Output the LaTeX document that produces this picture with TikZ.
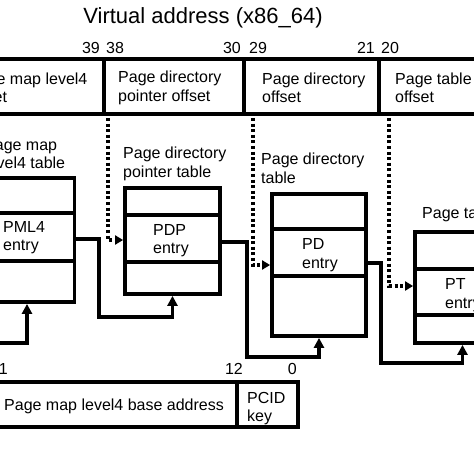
\documentclass[tikz,border=0pt]{standalone}
\usepackage{fontspec}
\setmainfont{Liberation Sans}
\usetikzlibrary{arrows.meta}
\tikzset{
  cell/.style={draw, rectangle, inner sep=0pt, line width=3.8pt},
  txt/.style={inner sep=0pt, align=left, anchor=west, font=\fontsize{16}{18.5}\selectfont},
  num/.style={inner sep=0pt, font=\fontsize{16}{18.5}\selectfont},
  conn/.style={line width=3.8pt, -{Triangle[length=10pt,width=10pt]}},
  dotline/.style={line width=3.4pt, dash pattern=on 3pt off 2.6pt, -{Triangle[length=8pt,width=9pt]}},
}
\begin{document}
\begin{tikzpicture}[x=1pt,y=-1pt]
\useasboundingbox (0,0) rectangle (474,474);
\clip (0,0) rectangle (474,474);

% title
\node[inner sep=0pt, font=\fontsize{22}{26}\selectfont] (title) at (203,17.5) {Virtual address (x86\_64)};

% top register
\node[cell, minimum width=150pt, minimum height=55pt] (f1) at (29,86.5) {};
\node[cell, minimum width=140pt, minimum height=55pt] (f2) at (174,86.5) {};
\node[cell, minimum width=135pt, minimum height=55pt] (f3) at (311.5,86.5) {};
\node[cell, minimum width=141pt, minimum height=55pt] (f4) at (449.5,86.5) {};
\node[txt] (t1) at (-32,88) {Page map level4\\offset};
\node[txt] (t2) at (118,88) {Page directory\\pointer offset};
\node[txt] (t3) at (262,88) {Page directory\\offset};
\node[txt] (t4) at (395,88) {Page table\\offset};
\node[num, anchor=east] (n39) at (100,47.5) {39};
\node[num, anchor=west] (n38) at (106,47.5) {38};
\node[num, anchor=east] (n30) at (241,47.5) {30};
\node[num, anchor=west] (n29) at (249,47.5) {29};
\node[num, anchor=east] (n21) at (375,47.5) {21};
\node[num, anchor=west] (n20) at (381,47.5) {20};

% PML4 table
\node[txt] (l1) at (-16,154) {Page map\\level4 table};
\node[cell, minimum width=95pt, minimum height=35pt] (pml4a) at (27,195.5) {};
\node[cell, minimum width=95pt, minimum height=48pt] (pml4b) at (27,237) {};
\node[cell, minimum width=95pt, minimum height=41pt] (pml4c) at (27,281.5) {};
\node[txt] (e1) at (3,237.5) {PML4\\entry};

% PDP table
\node[txt] (l2) at (123,164) {Page directory\\pointer table};
\node[cell, minimum width=95pt, minimum height=27pt] (pdpa) at (172.5,201.5) {};
\node[cell, minimum width=95pt, minimum height=47pt] (pdpb) at (172.5,238.5) {};
\node[cell, minimum width=95pt, minimum height=32pt] (pdpc) at (172.5,278) {};
\node[txt] (e2) at (153,240.5) {PDP\\entry};

% PD table
\node[txt] (l3) at (261,168.5) {Page directory\\table};
\node[cell, minimum width=94pt, minimum height=35pt] (pda) at (319,211.5) {};
\node[cell, minimum width=94pt, minimum height=47pt] (pdb) at (319,252.5) {};
\node[cell, minimum width=94pt, minimum height=60pt] (pdc) at (319,306) {};
\node[txt] (e3) at (302,255) {PD\\entry};

% PT table
\node[txt] (l4) at (422,214) {Page table};
\node[cell, minimum width=95pt, minimum height=37pt] (pta) at (462.5,250.5) {};
\node[cell, minimum width=95pt, minimum height=46pt] (ptb) at (462.5,292) {};
\node[cell, minimum width=95pt, minimum height=28pt] (ptc) at (462.5,329) {};
\node[txt] (e4) at (445,295) {PT\\entry};

% bottom register
\node[cell, minimum width=437pt, minimum height=45pt] (b1) at (18.5,404.5) {};
\node[cell, minimum width=61pt, minimum height=45pt] (b2) at (267.5,404.5) {};
\node[txt] (bt1) at (4,406) {Page map level4 base address};
\node[txt] (bt2) at (247,408.5) {PCID\\key};
\node[num, anchor=east] (n51) at (8,369) {51};
\node[num, anchor=east] (n12) at (243,369) {12};
\node[num, anchor=east] (n0) at (297,369) {0};

% connectors
\coordinate (k0) at (-20,343);
\coordinate (k1) at (99,317);
\coordinate (k2) at (247,357);
\coordinate (k3) at (381,363);
\draw[conn] (k0) -| (pml4c.south);
\draw[conn] ([yshift=-2pt]pml4b.east) -| (k1) -| (pdpc.south);
\draw[conn] ([yshift=-3.5pt]pdpb.east) -| (k2) -| (pdc.south);
\draw[conn] ([yshift=-10.5pt]pdb.east) -| (k3) -| (ptc.south);

% dotted index lines
\draw[dotline] ([xshift=6pt,yshift=-2pt]f2.south west) |- ([yshift=-1.5pt]pdpb.west);
\draw[dotline] ([xshift=11pt,yshift=-2pt]f3.south west) |- ([yshift=-12.5pt]pdb.west);
\draw[dotline] ([xshift=12pt,yshift=-2pt]f4.south west) |- ([yshift=6pt]ptb.west);
\end{tikzpicture}
\end{document}
